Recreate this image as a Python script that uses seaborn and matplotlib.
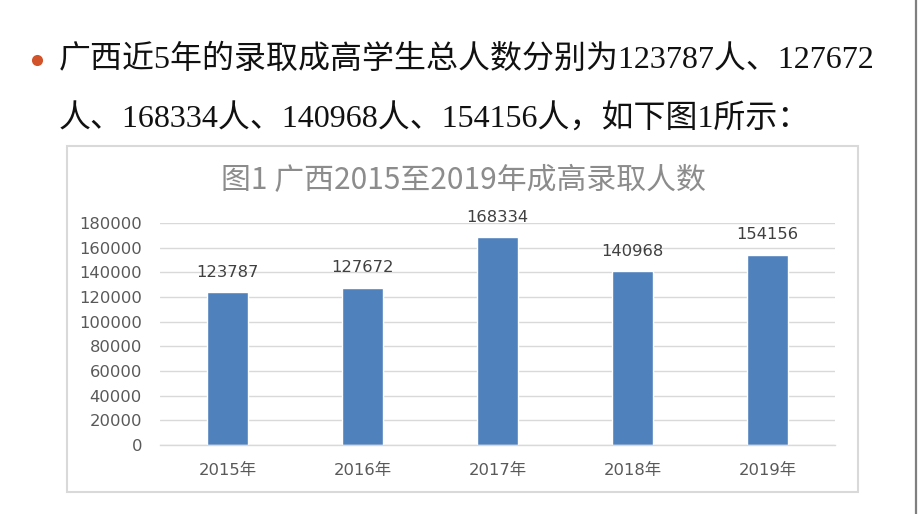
import matplotlib
matplotlib.use("Agg")
import matplotlib.pyplot as plt
import seaborn as sns
import pandas as pd
from matplotlib.patches import Rectangle
from matplotlib.lines import Line2D

# ---- data ----
years = ["2015年", "2016年", "2017年", "2018年", "2019年"]
counts = [123787, 127672, 168334, 140968, 154156]
yticks = [0, 20000, 40000, 60000, 80000, 100000, 120000, 140000, 160000, 180000]
chart_title = "图1 广西2015至2019年成高录取人数"
line1 = "广西近5年的录取成高学生总人数分别为123787人、127672"
line2 = "人、168334人、140968人、154156人，如下图1所示："

sns.set_theme(style="white")
plt.rcParams["font.family"] = ["DejaVu Sans", "Noto Sans CJK SC"]

W, H = 921, 514
fig = plt.figure(figsize=(W / 100, H / 100), dpi=100)
fig.patch.set_facecolor("white")

def fx(px):
    return px / W

def fy(py):
    return 1 - py / H

# slide edge line on the right
fig.add_artist(Line2D([fx(915.5), fx(915.5)], [0, 1], color="#7F7F7F", lw=1.6,
                      transform=fig.transFigure))

# bullet + slide text
fig.add_artist(Line2D([fx(37)], [fy(60)], marker="o", markersize=8, color="#D2532A",
                      markeredgewidth=0, transform=fig.transFigure))
serif_cjk = ["Liberation Serif", "Noto Sans CJK SC"]
fig.text(fx(59), fy(60), line1, fontsize=23, family=serif_cjk, color="#111111",
         ha="left", va="center")
fig.text(fx(59), fy(120), line2, fontsize=23, family=serif_cjk, color="#111111",
         ha="left", va="center")

# chart box
fig.add_artist(Rectangle((fx(67), fy(492)), fx(858) - fx(67), fy(146) - fy(492),
                         transform=fig.transFigure, fill=False, edgecolor="#D9D9D9", lw=1.5))

# chart title
fig.text(fx(463), fy(180), chart_title, fontsize=21.5, family=["Noto Sans CJK SC"],
         color="#8C8C8C", ha="center", va="center", fontweight="light")

# axes
ax = fig.add_axes([fx(160), fy(445), fx(835) - fx(160), fy(223) - fy(445)])
df = pd.DataFrame({"year": years, "count": counts})
sns.barplot(data=df, x="year", y="count", color="#4F81BD", saturation=1, width=0.305, ax=ax)

ax.set_xlim(-0.5, len(years) - 0.5)
ax.set_ylim(0, 180000)
ax.set_yticks(yticks)
ax.set_yticklabels([str(v) for v in yticks])
ax.yaxis.grid(True, color="#D9D9D9", lw=1)
ax.set_axisbelow(True)
for s in ["top", "right", "left"]:
    ax.spines[s].set_visible(False)
ax.spines["bottom"].set_color("#D9D9D9")
ax.spines["bottom"].set_linewidth(1)
ax.tick_params(axis="both", length=0, labelsize=11.8, labelcolor="#595959")
ax.tick_params(axis="y", pad=13)
ax.tick_params(axis="x", pad=13)
ax.set_xlabel("")
ax.set_ylabel("")
ax.set_facecolor("white")

for i, v in enumerate(counts):
    ax.annotate(str(v), (i, v), xytext=(0, 14.5), textcoords="offset points",
                ha="center", va="center", fontsize=11.8, color="#404040")

fig.savefig("out.png", dpi=100, facecolor="white")
